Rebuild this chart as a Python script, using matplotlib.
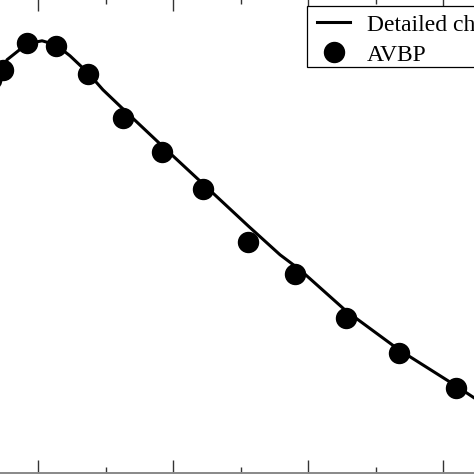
import matplotlib
matplotlib.use("Agg")
import matplotlib.pyplot as plt
from matplotlib.ticker import MultipleLocator
from matplotlib.patches import Rectangle

plt.rcParams['font.family'] = ['Liberation Serif', 'DejaVu Serif']

# Detailed chemistry curve (x, y)
line_x = [0.570, 0.719, 0.770, 0.919, 1.030, 1.133, 1.237, 1.370, 1.481, 1.644,
          1.919, 2.222, 2.556, 2.793, 2.941, 3.281, 3.674, 4.096, 4.230, 4.422]
line_y = [3.58, 3.89, 4.13, 4.29, 4.32, 4.28, 4.17, 4.00, 3.83, 3.62,
          3.27, 2.89, 2.47, 2.18, 2.03, 1.62, 1.23, 0.87, 0.75, 0.59]

# AVBP points
avbp_x = [0.741, 0.919, 1.133, 1.370, 1.630, 1.919, 2.222, 2.556, 2.904, 3.281, 3.674, 4.096]
avbp_y = [4.03, 4.30, 4.27, 3.99, 3.55, 3.21, 2.84, 2.31, 1.99, 1.55, 1.20, 0.85]

labels = ["Detailed chemistry", "AVBP"]

W = 474
fig = plt.figure(figsize=(4.74, 4.74), dpi=100)
ax = fig.add_axes([-97 / W, 1.2 / W, 675 / W, 475 / W])
ax.set_xlim(0, 5)
ax.set_ylim(0, 4.75)

ax.plot(line_x, line_y, color='black', lw=2.2, label=labels[0], zorder=2)
ax.plot(avbp_x, avbp_y, 'o', color='black', markersize=14.4, label=labels[1], zorder=3)

ax.xaxis.set_major_locator(MultipleLocator(1))
ax.xaxis.set_minor_locator(MultipleLocator(0.5))
ax.tick_params(axis='x', which='both', direction='in', top=True, bottom=True,
               labelbottom=False, labeltop=False, color='#333333', width=1.0)
ax.tick_params(axis='x', which='major', length=9.4)
ax.tick_params(axis='x', which='minor', length=4.6)
ax.tick_params(axis='y', which='both', left=False, right=False, labelleft=False)
for s in ['left', 'right', 'top']:
    ax.spines[s].set_visible(False)
ax.spines['bottom'].set_color('#888888')
ax.spines['bottom'].set_linewidth(1.4)

# legend frame
frame = Rectangle((307 / W, 1 - 67 / W), 200 / W, 61 / W, transform=fig.transFigure,
                  facecolor='white', edgecolor='black', linewidth=0.9,
                  clip_on=False, zorder=4)
ax.add_patch(frame)

leg = ax.legend(loc='upper left', bbox_to_anchor=(317 / W, 1 - 14.0 / W),
                bbox_transform=fig.transFigure, borderaxespad=0, borderpad=0,
                frameon=False, fontsize=17, handlelength=1.4, handletextpad=0.72,
                labelspacing=0.36)
leg.set_zorder(5)

fig.savefig('out.png', dpi=100)
